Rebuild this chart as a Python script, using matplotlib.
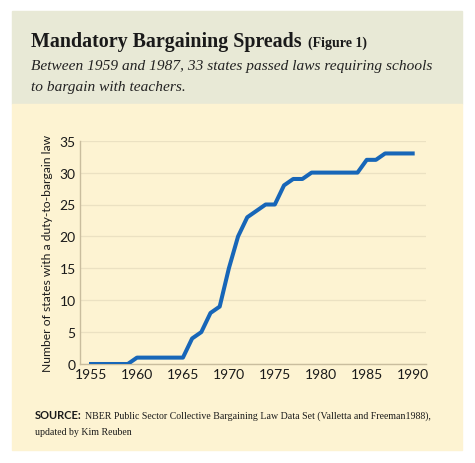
import matplotlib
matplotlib.use("Agg")
import matplotlib.pyplot as plt
from matplotlib.patches import Rectangle

# data
years = list(range(1955, 1991))
states = [0, 0, 0, 0, 0, 1, 1, 1, 1, 1, 1, 4, 5, 8, 9, 15, 20, 23, 24, 25,
          25, 28, 29, 29, 30, 30, 30, 30, 30, 30, 32, 32, 33, 33, 33, 33]
xticks = [1955, 1960, 1965, 1970, 1975, 1980, 1985, 1990]
yticks = [0, 5, 10, 15, 20, 25, 30, 35]

W, H = 475, 464
fig = plt.figure(figsize=(W / 100, H / 100), dpi=100)
fig.patch.set_facecolor("white")

def fx(px):
    return px / W

def fy(py):
    return 1 - py / H

# header + body panels
fig.patches.append(Rectangle((fx(12), fy(105)), fx(450), 93 / H,
                             transform=fig.transFigure, color="#e8e9d6", zorder=-5))
fig.patches.append(Rectangle((fx(12), fy(451)), fx(450), 346 / H,
                             transform=fig.transFigure, color="#fdf3d2", zorder=-5))

serif = "Liberation Serif"
sans = "Lato"

title = fig.text(fx(31), fy(47), "Mandatory Bargaining Spreads", fontsize=14.4,
                 fontweight="bold", family=serif, color="#1a1a1a")
fig.canvas.draw()
bb = title.get_window_extent()
fig.text(bb.x1 / W + fx(6), fy(47), "(Figure 1)", fontsize=10, fontweight="bold",
         family=serif, color="#1a1a1a")
fig.text(fx(31), fy(70), "Between 1959 and 1987, 33 states passed laws requiring schools",
         fontsize=11.1, style="italic", family=serif, color="#222222")
fig.text(fx(31), fy(91), "to bargain with teachers.",
         fontsize=11.1, style="italic", family=serif, color="#222222")

ax = fig.add_axes([fx(80), fy(365), fx(426) - fx(80), (365 - 141.7) / H])
ax.set_facecolor("none")
ax.plot(years, states, color="#1766b8", lw=2.9, solid_joinstyle="round", zorder=3)

ax.set_xlim(1953.8, 1991.45)
ax.set_ylim(0, 35)
ax.set_xticks(xticks)
ax.set_yticks(yticks)
ax.tick_params(length=0, labelsize=10, colors="#1a1a1a", pad=3)
for lab in ax.get_xticklabels() + ax.get_yticklabels():
    lab.set_family(sans)
ax.grid(axis="y", color="#ebe1c2", lw=0.9)
ax.set_axisbelow(True)
for s in ["top", "right"]:
    ax.spines[s].set_visible(False)
for s in ["left", "bottom"]:
    ax.spines[s].set_color("#c9bd9e")
    ax.spines[s].set_linewidth(1.0)
ax.set_ylabel("Number of states with a duty-to-bargain law", family=sans,
              fontsize=8.7, color="#1a1a1a", labelpad=5)

fig.text(fx(35), fy(419), "SOURCE:", fontsize=8, fontweight="bold",
         family=sans, color="#1a1a1a")
fig.text(fx(85), fy(419), "NBER Public Sector Collective Bargaining Law Data Set (Valletta and Freeman1988),",
         fontsize=7.15, family=serif, color="#1a1a1a")
fig.text(fx(35), fy(435), "updated by Kim Reuben", fontsize=7.15, family=serif,
         color="#1a1a1a")

fig.savefig("out.png", dpi=100)
